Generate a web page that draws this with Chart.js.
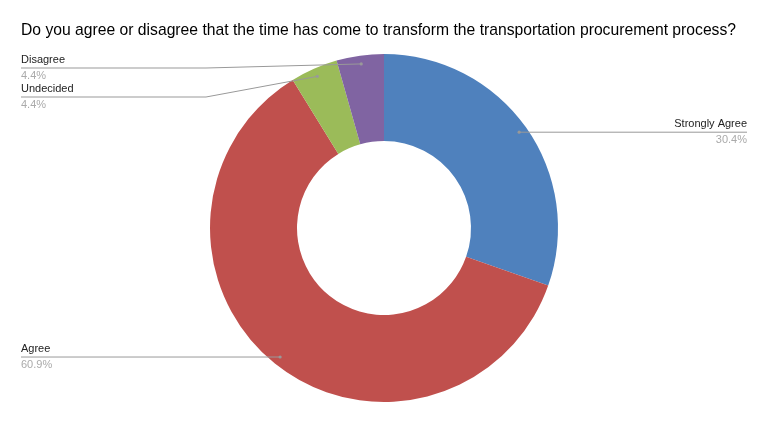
<!DOCTYPE html>
<html>
<head>
<meta charset="utf-8">
<script src="https://cdn.jsdelivr.net/npm/chart.js@4"></script>
<style>
html,body{margin:0;padding:0;background:#fff}
#wrap{width:768px;height:423px}
</style>
</head>
<body>
<div id="wrap"><canvas id="c" width="768" height="423"></canvas></div>
<script>
const title = 'Do you agree or disagree that the time has come to transform the transportation procurement process?';
const labels = ['Strongly Agree','Agree','Undecided','Disagree'];
const shares = [30.4,60.9,4.4,4.4];
const colors = ['#4f81bd','#c0504d','#9bbb59','#8064a2'];

// label layout: side, leader line y (null = same as anchor), elbow x
const side = ['right','left','left','left'];
const lineY = [null,null,97,68];
const elbowX = [null,null,206,206];

function pct(v){return v.toFixed(1)+'%'}

const font = '"Liberation Sans", Arial, sans-serif';

const labelPlugin = {
  id:'labelPlugin',
  afterDraw(chart){
    const ctx=chart.ctx;
    ctx.save();
    ctx.fillStyle='#000';
    ctx.font='15.7px '+font;
    ctx.textBaseline='middle';
    ctx.textAlign='left';
    ctx.fillText(title,21,31);

    const meta=chart.getDatasetMeta(0);
    meta.data.forEach((arc,i)=>{
      const mid=(arc.startAngle+arc.endAngle)/2;
      const r=arc.outerRadius*0.952;
      const ax=arc.x+Math.cos(mid)*r, ay=arc.y+Math.sin(mid)*r;
      const ly=lineY[i]==null?ay:lineY[i];
      ctx.strokeStyle='#999';
      ctx.lineWidth=1;
      ctx.beginPath();
      if(side[i]==='right'){
        ctx.moveTo(ax,ay);ctx.lineTo(747,ly);
      }else{
        ctx.moveTo(ax,ay);
        if(elbowX[i]!=null) ctx.lineTo(elbowX[i],ly);
        ctx.lineTo(21,ly);
      }
      ctx.stroke();
      ctx.fillStyle='#999';
      ctx.beginPath();ctx.arc(ax,ay,1.6,0,Math.PI*2);ctx.fill();

      const tx=side[i]==='right'?747:21;
      ctx.textAlign=side[i]==='right'?'right':'left';
      ctx.font='11px '+font;
      ctx.fillStyle='#222';
      ctx.fillText(labels[i],tx,ly-8);
      ctx.fillStyle='#aaa';
      ctx.fillText(pct(shares[i]),tx,ly+8);
    });
    ctx.restore();
  }
};

new Chart(document.getElementById('c'),{
  type:'doughnut',
  data:{labels,datasets:[{data:shares,backgroundColor:colors,borderWidth:0}]},
  options:{
    responsive:false,
    animation:false,
    cutout:'50%',
    layout:{padding:{top:54,bottom:21,left:0,right:0}},
    plugins:{legend:{display:false},tooltip:{enabled:false},title:{display:false}}
  },
  plugins:[labelPlugin]
});
</script>
</body>
</html>
